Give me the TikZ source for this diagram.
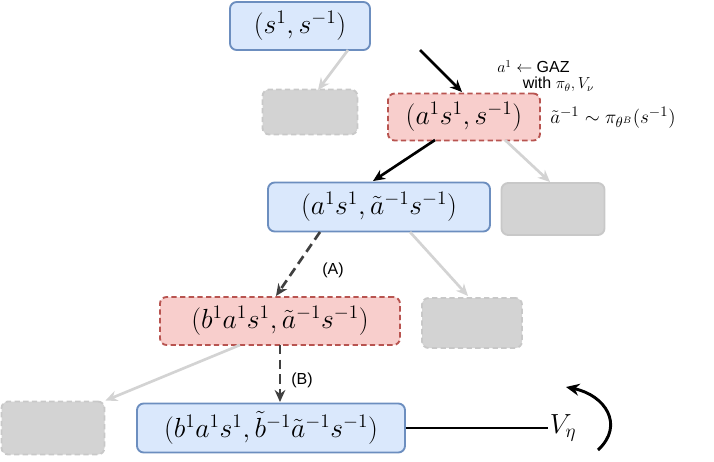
\documentclass[tikz,border=0pt]{standalone}
\usepackage{fontspec}
\setsansfont{Liberation Sans}
\usetikzlibrary{arrows.meta}
\definecolor{bfill}{HTML}{DAE8FC}\definecolor{bdraw}{HTML}{6C8EBF}
\definecolor{rfill}{HTML}{F8CECC}\definecolor{rdraw}{HTML}{B85450}
\definecolor{gfill}{HTML}{D3D3D3}\definecolor{gdraw}{HTML}{C8C8C8}
\begin{document}
\begin{tikzpicture}[x=0.75pt,y=-0.75pt,
 box/.style={draw, line width=1.4pt, rounded corners=5pt, font=\fontsize{22}{26}\selectfont, anchor=center, inner sep=0pt},
 blue/.style={box, fill=bfill, draw=bdraw},
 red/.style={box, fill=rfill, draw=rdraw, dash pattern=on 4pt off 2.5pt},
 gray/.style={box, fill=gfill, draw=gdraw},
 gd/.style={dash pattern=on 4pt off 2.5pt},
 ga/.style={draw=gdraw!80, line width=2pt, -{Stealth[length=9pt,width=8pt]}},
 ba/.style={draw=black, line width=2pt, -{Stealth[length=9pt,width=8pt]}},
 da/.style={draw=black!75, line width=2pt, dash pattern=on 7pt off 4pt, -{Stealth[length=9pt,width=8pt]}},
 lab/.style={font=\sffamily\fontsize{12}{14}\selectfont, inner sep=0pt}]
\useasboundingbox (0,0) rectangle (714,461);
\node[blue, minimum width=105pt, minimum height=36pt] (n1) at (300,26) {$(s^1, s^{-1})$};
\node[gray, gd, minimum width=71.25pt, minimum height=33.75pt] (g1) at (310,112) {};
\node[red, minimum width=114pt, minimum height=35.25pt] (n2) at (464,117) {$(a^1s^1, s^{-1})$};
\node[blue, minimum width=166.5pt, minimum height=36.75pt] (n3) at (379,207) {$(a^1s^1, \tilde a^{-1}s^{-1})$};
\node[gray, minimum width=77.25pt, minimum height=39pt] (g2) at (553,209) {};
\node[red, minimum width=180pt, minimum height=36pt] (n4) at (280,321) {$(b^1a^1s^1, \tilde a^{-1}s^{-1})$};
\node[gray, gd, minimum width=75pt, minimum height=37.5pt] (g3) at (472,323) {};
\node[gray, gd, minimum width=77.25pt, minimum height=39.75pt] (g4) at (53,428) {};
\node[blue, minimum width=201pt, minimum height=36.75pt] (n5) at (271,428) {$(b^1a^1s^1, \tilde b^{-1}\tilde a^{-1}s^{-1})$};
\node[font=\fontsize{22}{26}\selectfont, inner sep=1pt] (v) at (563,428) {$V_\eta$};
\coordinate (c1) at (348,50); \coordinate (c2) at (420,50);
\draw[ga] (c1) -- (318,90);
\draw[ba] (c2) -- (462,92);
\draw[ba] (435,140) -- (373,181);
\draw[ga] (505,140) -- (550,182);
\draw[da] (320,232) -- (276,296);
\node[lab] (la) at (333,270) {(A)};
\draw[ga] (410,232) -- (468,296);
\draw[da] (280,345) -- (280,402);
\draw[ga] (240,345) -- (g4.north east);
\node[lab] (lb) at (302,380) {(B)};
\draw[line width=2pt] (n5.east) -- (v.west);
\draw[line width=2.2pt, -{Stealth[length=10pt,width=9pt]}] (598,450) .. controls (625,425) and (605,395) .. (566,387);
\node[lab, align=left, anchor=north west] (t1) at (497,60) {$a^1 \leftarrow$ GAZ\\[-2pt]\hspace{1.6em}with $\pi_\theta, V_\nu$};
\node[inner sep=0pt, anchor=west, font=\fontsize{15}{17}\selectfont] (t2) at (550,118) {$\tilde a^{-1} \sim \pi_{\theta^B}(s^{-1})$};
\end{tikzpicture}
\end{document}
